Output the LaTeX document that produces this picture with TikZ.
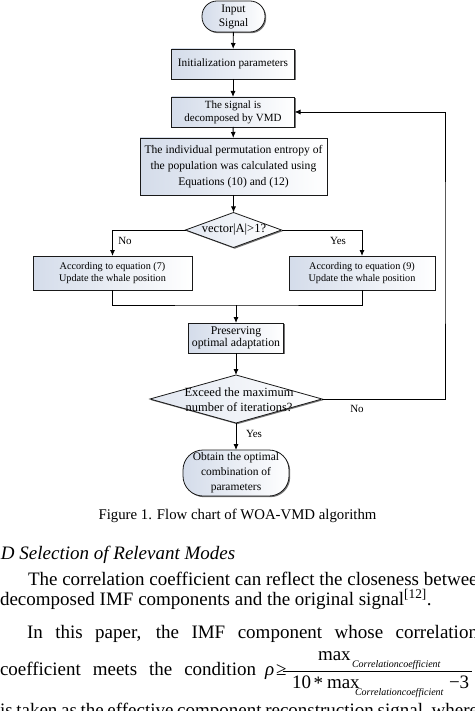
\documentclass[tikz,border=0pt]{standalone}
\usepackage{fontspec}
\setmainfont{Liberation Serif}
\usetikzlibrary{shapes.geometric,arrows.meta,shadows}
\definecolor{boxblue}{RGB}{212,220,234}
\begin{document}
\begin{tikzpicture}[x=1pt,y=-1pt,
  every node/.style={inner sep=0pt,outer sep=0pt},
  shadowed/.style={drop shadow={shadow xshift=1.2pt,shadow yshift=-1.2pt,fill=black!55,opacity=1}},
  proc/.style={draw=black!90,line width=0.8pt,rectangle,left color=boxblue,right color=white,shadowed,align=center},
  term/.style={proc,rounded corners=#1},
  dec/.style={draw=black!90,line width=0.8pt,diamond,left color=boxblue!70,right color=white,shadowed},
  ff/.style 2 args={font=\fontsize{#1}{#2}\selectfont},
  lab/.style={font=\fontsize{11}{13}\selectfont},
  conn/.style={line width=0.9pt,draw=black},
  arr/.style={conn,-{Latex[length=6pt,width=5pt]}},
  body/.style={anchor=base west,font=\fontsize{19}{21}\selectfont},
]
\clip (0,0) rectangle (474,711);
\fill[white] (0,0) rectangle (474,711);

% flowchart nodes
\node[term=15pt,minimum width=63,minimum height=31,ff={11.5}{14}] (in) at (233.5,16.5) {Input\\Signal};
\node[proc,minimum width=123,minimum height=30,ff={11.3}{13}] (init) at (233,64) {Initialization parameters};
\node[proc,minimum width=123,minimum height=30,ff={11}{13}] (vmd) at (233,112) {The signal is\\decomposed by VMD};
\node[proc,minimum width=187,minimum height=57,ff={11.6}{16}] (ent) at (233.5,166.5) {The individual permutation entropy of\\the population was calculated using\\Equations (10) and (12)};
\node[dec,minimum width=96,minimum height=35] (dia1) at (233.5,230) {};
\node[ff={12.5}{14}] (dia1t) at (234,229.5) {vector|A|>1?};
\node[proc,minimum width=159,minimum height=34,ff={10.2}{12.5}] (left) at (112.5,273) {According to equation (7)\\Update the whale position};
\node[proc,minimum width=146,minimum height=34,ff={10.2}{12.5}] (right) at (362,273) {According to equation (9)\\Update the whale position};
\node[proc,minimum width=95,minimum height=30,ff={11.8}{12.5}] (pres) at (236,338) {Preserving\\optimal adaptation};
\node[dec,minimum width=172,minimum height=48] (dia2) at (236,399) {};
\node[align=center,ff={12.5}{15}] (dia2t) at (239,399.5) {Exceed the maximum\\number of iterations?};
\node[term=20pt,minimum width=106,minimum height=46,ff={11.5}{15}] (end) at (236,473) {Obtain the optimal\\combination of\\parameters};

% connectors
\coordinate (m) at (236,305);
\coordinate (loopc) at (445,250);
\draw[arr] (in) -- (init);
\draw[arr] (init) -- (vmd);
\draw[arr] (vmd) -- (ent);
\draw[arr] (ent) -- (dia1);
\draw[arr] (dia1.west) -| (left.north);
\draw[arr] (dia1.east) -| (right.north);
\draw[conn] (left.south) |- (m) -| (right.south);
\draw[arr] (m) -- (pres.north);
\draw[arr] (pres) -- (dia2);
\draw[arr] (dia2) -- (end);
\draw[arr] (dia2.east) -| (loopc) |- (vmd.east);

% labels
\node[lab] (no1) at (125,241) {No};
\node[lab] (yes1) at (338,241) {Yes};
\node[lab] (no2) at (357,408.5) {No};
\node[lab] (yes2) at (254,434) {Yes};

% caption and page text
\node[anchor=base,font=\fontsize{14.8}{16}\selectfont] (cap) at (237.5,519.5) {Figure 1. Flow chart of WOA-VMD algorithm};
\node[body,font=\fontsize{19}{21}\itshape] (head) at (1,559) {D Selection of Relevant Modes};
\node[body] (l1) at (28,585) {The correlation coefficient can reflect the closeness between};
\node[body] (l2) at (0,605) {decomposed IMF components and the original signal\textsuperscript{[12]}.};
\node[body] (l3) at (27,638) {\makebox[451pt][s]{In this paper, the IMF component whose correlation}};
\node[body] (l4) at (0,675) {\makebox[256pt][s]{coefficient meets the condition}};
\node[body,font=\fontsize{19}{21}\itshape] (rho) at (265,675) {ρ};
\node[body] (geq) at (276,675) {≥};
\coordinate (fracl) at (283,671);
\coordinate (fracr) at (472,671);
\draw[line width=0.8pt] (fracl) -- (fracr);
\node[body] (nmax) at (318,660) {max};
\node[anchor=base west,font=\fontsize{10}{11}\itshape] (nsub) at (352,667) {Correlationcoefficient};
\node[body] (dten) at (292,688) {10};
\node[body] (dast) at (313.5,689.5) {*};
\node[body] (dmax) at (327,688) {max};
\node[anchor=base west,font=\fontsize{10}{11}\itshape] (dsub) at (355,695) {Correlationcoefficient};
\node[body] (dm3) at (449,688) {−3};
\node[body] (l5) at (0,716) {\makebox[478pt][s]{is taken as the effective component reconstruction signal, where}};
\end{tikzpicture}
\end{document}
